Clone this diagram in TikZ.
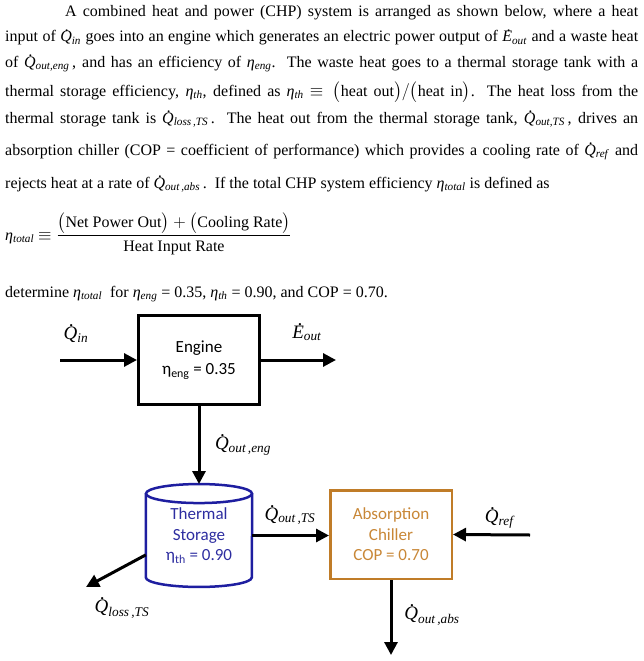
\documentclass[tikz,border=0pt]{standalone}
\usepackage{amsmath}
\usepackage{fontspec}
\setmainfont{Liberation Serif}
\newfontfamily\boxfont{Carlito}
\usetikzlibrary{arrows.meta}
\definecolor{tankblue}{RGB}{30,30,160}
\definecolor{tanktext}{RGB}{45,45,160}
\definecolor{chillorange}{RGB}{192,124,40}
\definecolor{chilltext}{RGB}{200,135,55}
\newcommand\rate[2]{\textit{\makebox[0pt][l]{\hspace{.3em}\raisebox{.68em}{.}}#1}\textsubscript{\textit{#2}}}
\newcommand\effy[1]{\textit{η}\textsubscript{\textit{#1}}}

\begin{document}
\begin{tikzpicture}[x=1pt,y=-1pt,
    txt/.style={anchor=base west,inner sep=0pt,font=\fontsize{16}{19}\selectfont},
    lbl/.style={inner sep=0pt,font=\fontsize{19}{21}\selectfont},
    flow/.style={line width=3pt,-{Triangle[length=13pt,width=13pt]}},
    engbox/.style={draw,line width=3pt,minimum width=121pt,minimum height=89pt,
        align=center,font=\boxfont\fontsize{17}{22}\selectfont},
    tank/.style={minimum width=106pt,minimum height=102.5pt,align=center,
        text=tanktext,font=\boxfont\fontsize{17}{20.5}\selectfont},
    tankline/.style={draw=tankblue,line width=2.5pt},
    chillbox/.style={draw=chillorange,line width=2.5pt,minimum width=121.5pt,
        minimum height=88.5pt,align=center,text=chilltext,
        font=\boxfont\fontsize{17}{20.5}\selectfont}]

\useasboundingbox (0,0) rectangle (643,661);

\node[txt] (line1) at (65,17) {\makebox[573pt][s]{A combined heat and power (CHP) system is arranged as shown below, where a heat}};
\node[txt] (line2) at (5,42) {\makebox[633pt][s]{input of \rate{Q}{in} goes into an engine which generates an electric power output of \rate{E}{out} and a waste heat}};
\node[txt] (line3) at (5,67) {\makebox[633pt][s]{of \rate{Q}{out,eng}\,, and has an efficiency of \effy{eng}.\ \ The waste heat goes to a thermal storage tank with a}};
\node[txt] (line4) at (5,96) {\makebox[633pt][s]{thermal storage efficiency, \effy{th}, defined as \effy{th} $\equiv\bigl($heat out$\bigr)/\bigl($heat in$\bigr)$.\ \ The heat loss from the}};
\node[txt] (line5) at (5,123) {\makebox[633pt][s]{thermal storage tank is \rate{Q}{loss\,,TS}\,.\ \ The heat out from the thermal storage tank, \rate{Q}{out,TS}\,, drives an}};
\node[txt] (line6) at (5,155) {\makebox[633pt][s]{absorption chiller (COP = coefficient of performance) which provides a cooling rate of \rate{Q}{ref} and}};
\node[txt] (line7) at (5,188) {rejects heat at a rate of \rate{Q}{out\,,abs}\,.\ \ If the total CHP system efficiency \effy{total} is defined as};

\node[txt,anchor=west] (eq) at (5,234) {\effy{total} $\equiv\dfrac{\bigl(\text{Net Power Out}\bigr)+\bigl(\text{Cooling Rate}\bigr)}{\text{Heat Input Rate}}$};
\node[txt] (det) at (5,297) {determine \effy{total}\ \ for \effy{eng} = 0.35, \effy{th} = 0.90, and COP = 0.70.};

\node[engbox] (eng) at (199,360) {Engine\\η\textsubscript{eng} = 0.35};
\node[tank] (ts) at (199,535.5) {Thermal\\Storage\\η\textsubscript{th} = 0.90};
\draw[tankline] (ts.north) ++(0,9.5) ellipse [x radius=53pt,y radius=9.5pt];
\draw[tankline] ([yshift=-9.5pt]ts.north west) -- ([yshift=9.5pt]ts.south west)
    arc [start angle=180,end angle=360,x radius=53pt,y radius=9.5pt]
    -- ([yshift=-9.5pt]ts.north east);
\node[chillbox] (ch) at (391,534.5) {Absorption\\Chiller\\COP = 0.70};

\coordinate (qin) at (60,360);
\coordinate (eout) at (336,360);
\coordinate (qref) at (530,535);
\coordinate (qabs) at (391,655);
\coordinate (qloss) at (86,587);

\draw[flow] (qin) -- (eng.west);
\draw[flow] (eng.east) -- (eout);
\draw[flow] (eng.south) -- (ts.north);
\draw[flow] (ts.east) -- (ts.east -| ch.west);
\draw[flow] (qref) -- (ch.east);
\draw[flow] (ch.south) -- (qabs);
\draw[flow] (ts.200) -- (qloss);

\node[lbl] (lqin) at (76,334) {\rate{Q}{in}};
\node[lbl] (leout) at (307,332) {\rate{E}{out}};
\node[lbl] (lqeng) at (243,445) {\rate{Q}{out\,,eng}};
\node[lbl] (lqts) at (290,515) {\rate{Q}{out\,,TS}};
\node[lbl] (lqloss) at (122,608) {\rate{Q}{loss\,,TS}};
\node[lbl] (lqref) at (500,518) {\rate{Q}{ref}};
\node[lbl] (lqabs) at (432,615) {\rate{Q}{out\,,abs}};

\end{tikzpicture}
\end{document}
